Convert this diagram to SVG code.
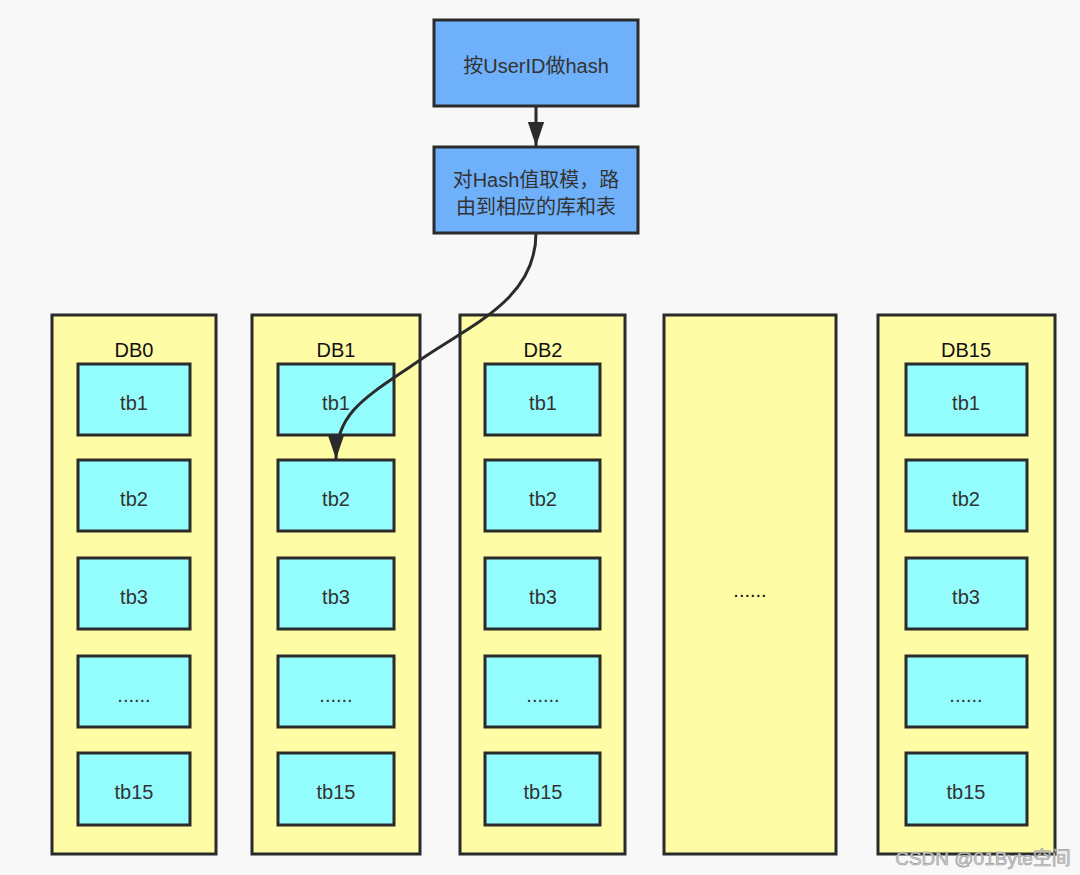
<svg xmlns="http://www.w3.org/2000/svg" width="1080" height="875" viewBox="0 0 1080 875">
<defs>
<style>
.proc{fill:#6eb0fa;stroke:#2b2b2b;stroke-width:3}
.db{fill:#fffca6;stroke:#2b2b2b;stroke-width:3}
.tb{fill:#93fdfd;stroke:#2b2b2b;stroke-width:3}
text{font-family:"Liberation Sans","Noto Sans CJK SC",sans-serif;font-size:20px;text-anchor:middle;dominant-baseline:central}
.lbl{fill:#333}
.hd{fill:#111}
.conn{fill:none;stroke:#2b2b2b;stroke-width:3}
</style>
<marker id="arr" viewBox="0 0 10 10" refX="10" refY="5" markerWidth="8" markerHeight="8" markerUnits="strokeWidth" orient="auto">
<path d="M0,1.6 L10,5 L0,8.4 z" fill="#2b2b2b"/>
</marker>
</defs>
<rect width="1080" height="875" fill="#f8f8f8"/>
<g id="hashNode"><rect class="proc" x="434" y="20" width="204" height="86"/><text class="lbl" x="536" y="66">按UserID做hash</text></g>
<g id="modNode"><rect class="proc" x="434" y="147" width="204" height="86"/><text class="lbl" x="536" y="180">对Hash值取模，路</text><text class="lbl" x="536" y="207">由到相应的库和表</text></g>
<g id="db0"><rect class="db" x="52" y="315" width="164" height="539"/><text class="hd" x="134" y="350">DB0</text>
<g id="db0-tb1"><rect class="tb" x="78" y="364" width="112" height="71"/><text class="lbl" x="134" y="403">tb1</text></g>
<g id="db0-tb2"><rect class="tb" x="78" y="460" width="112" height="71"/><text class="lbl" x="134" y="499">tb2</text></g>
<g id="db0-tb3"><rect class="tb" x="78" y="558" width="112" height="71"/><text class="lbl" x="134" y="597">tb3</text></g>
<g id="db0-more"><rect class="tb" x="78" y="656" width="112" height="71"/><text class="lbl" x="134" y="695">......</text></g>
<g id="db0-tb15"><rect class="tb" x="78" y="753" width="112" height="72"/><text class="lbl" x="134" y="792">tb15</text></g>
</g>
<g id="db1"><rect class="db" x="252" y="315" width="168" height="539"/><text class="hd" x="336" y="350">DB1</text>
<g id="db1-tb1"><rect class="tb" x="278" y="364" width="116" height="71"/><text class="lbl" x="336" y="403">tb1</text></g>
<g id="db1-tb2"><rect class="tb" x="278" y="460" width="116" height="71"/><text class="lbl" x="336" y="499">tb2</text></g>
<g id="db1-tb3"><rect class="tb" x="278" y="558" width="116" height="71"/><text class="lbl" x="336" y="597">tb3</text></g>
<g id="db1-more"><rect class="tb" x="278" y="656" width="116" height="71"/><text class="lbl" x="336" y="695">......</text></g>
<g id="db1-tb15"><rect class="tb" x="278" y="753" width="116" height="72"/><text class="lbl" x="336" y="792">tb15</text></g>
</g>
<g id="db2"><rect class="db" x="460" y="315" width="165" height="539"/><text class="hd" x="543" y="350">DB2</text>
<g id="db2-tb1"><rect class="tb" x="485" y="364" width="115" height="71"/><text class="lbl" x="543" y="403">tb1</text></g>
<g id="db2-tb2"><rect class="tb" x="485" y="460" width="115" height="71"/><text class="lbl" x="543" y="499">tb2</text></g>
<g id="db2-tb3"><rect class="tb" x="485" y="558" width="115" height="71"/><text class="lbl" x="543" y="597">tb3</text></g>
<g id="db2-more"><rect class="tb" x="485" y="656" width="115" height="71"/><text class="lbl" x="543" y="695">......</text></g>
<g id="db2-tb15"><rect class="tb" x="485" y="753" width="115" height="72"/><text class="lbl" x="543" y="792">tb15</text></g>
</g>
<g id="dbMore"><rect class="db" x="664" y="315" width="172" height="539"/><text class="hd" x="750" y="590">......</text></g>
<g id="db15"><rect class="db" x="878" y="315" width="177" height="539"/><text class="hd" x="966" y="350">DB15</text>
<g id="db15-tb1"><rect class="tb" x="906" y="364" width="121" height="71"/><text class="lbl" x="966" y="403">tb1</text></g>
<g id="db15-tb2"><rect class="tb" x="906" y="460" width="121" height="71"/><text class="lbl" x="966" y="499">tb2</text></g>
<g id="db15-tb3"><rect class="tb" x="906" y="558" width="121" height="71"/><text class="lbl" x="966" y="597">tb3</text></g>
<g id="db15-more"><rect class="tb" x="906" y="656" width="121" height="71"/><text class="lbl" x="966" y="695">......</text></g>
<g id="db15-tb15"><rect class="tb" x="906" y="753" width="121" height="72"/><text class="lbl" x="966" y="792">tb15</text></g>
</g>
<g id="connectors">
<path class="conn" d="M536,106 L536,146" marker-end="url(#arr)"/>
<path class="conn" d="M536,233 C536,300 470,325 420,360 C370,395 336,410 336,459" marker-end="url(#arr)"/>
</g>
<text x="983" y="858" style="font-size:19px;fill:#d0d0d0;stroke:#9a9a9a;stroke-width:0.6">CSDN @01Byte空间</text>
</svg>
